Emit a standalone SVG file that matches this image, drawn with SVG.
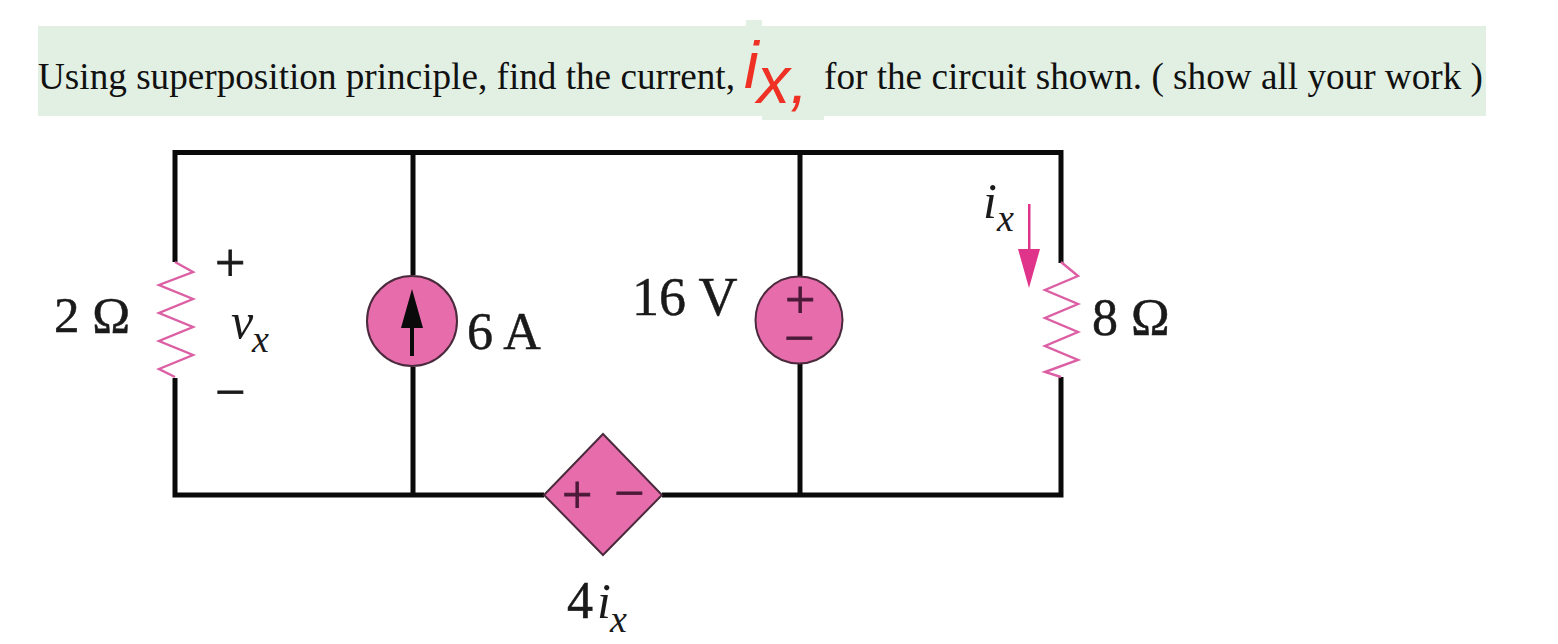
<svg xmlns="http://www.w3.org/2000/svg" width="1558" height="644" viewBox="0 0 1558 644">
<style>
.hl{fill:#e2f0e4}
.t{font-family:"Liberation Serif","Times New Roman",serif;fill:#1a1a1a}
.h{font-size:38px;fill:#111}
.l{font-size:52px;stroke:#1a1a1a;stroke-width:.5}
.i{font-style:italic}
.big{font-size:50px}
.sub{font-size:38px}
.sym{font-size:54px;stroke:#1a1a1a;stroke-width:.8}
.r{font-family:"Liberation Sans",Arial,sans-serif;font-style:italic;font-size:66px;fill:#ee3124}
.w{fill:none;stroke:#0a0a0a;stroke-width:5;stroke-linecap:butt}
.res{fill:none;stroke:#dc5fa4;stroke-width:2.4}
.src{fill:#e76cab;stroke:#4a2a3c;stroke-width:2}
.k{fill:#4a1a38;stroke:#4a1a38}
</style>
<rect width="1558" height="644" fill="#fff"/>
<g id="question">
<rect class="hl" x="38" y="26" width="1448" height="90"/>
<rect class="hl" x="746" y="20" width="16" height="6"/>
<rect class="hl" x="762" y="116" width="62" height="4"/>
<text class="t h" x="38" y="88.500" textLength="697" lengthAdjust="spacingAndGlyphs">Using superposition principle, find the current,</text>
<text class="r" x="744" y="88">i</text>
<text class="r" x="757" y="103">x,</text>
<text class="t h" x="824" y="88.500" textLength="659" lengthAdjust="spacingAndGlyphs">for the circuit shown. ( show all your work )</text>
</g>
<g id="connectors">
<path class="w" d="M175 262V152.500H1061V263" stroke-linejoin="miter"/>
<path class="w" d="M175 378V495H544M662 495H1061V377"/>
<path class="w" d="M413 152V275M413 367V495"/>
<path class="w" d="M800 152V277M800 363V495"/>
</g>
<g id="r2">
<polyline class="res" points="175,262 193,272 159,285 193,299 159,313 193,327 159,341 193,355 159,369 175,377"/>
<text class="t l" x="54" y="332" style="font-size:51px">2 Ω</text>
<text class="t sym" x="215" y="281">+</text>
<text class="t sym" x="215" y="410">−</text>
<text class="t i big" x="231" y="338">v</text>
<text class="t i sub" x="252" y="352">x</text>
</g>
<g id="i6">
<circle class="src" cx="412" cy="321" r="45"/>
<path d="M412 289L423 328H414V356H410V328H401Z" fill="#0a0a0a"/>
<text class="t l" x="467" y="349">6 A</text>
</g>
<g id="v16">
<circle class="src" cx="799" cy="320" r="43.500"/>
<text class="t sym k" x="785" y="318">+</text>
<text class="t sym k" x="784" y="356">−</text>
<text class="t l" x="632" y="315" style="font-size:54px">16 V</text>
</g>
<g id="r8">
<polyline class="res" points="1061,262 1078,276 1045,290 1078,304 1045,318 1078,332 1045,346 1078,360 1045,372 1061,377"/>
<text class="t l" x="1092" y="335">8 Ω</text>
<path d="M1028 204H1030.500V249H1040L1029 288L1018 249H1028Z" fill="#e0338a"/>
<text class="t i big" x="983" y="218">i</text>
<text class="t i sub" x="997" y="231">x</text>
</g>
<g id="dep">
<polygon class="src" points="603,434 662,495 603,555 544,495"/>
<text class="t sym k" x="562" y="513">+</text>
<text class="t sym k" x="614" y="511">−</text>
<text class="t l" x="567" y="618">4</text>
<text class="t i big" x="597" y="618">i</text>
<text class="t i sub" x="610" y="632">x</text>
</g>
</svg>
